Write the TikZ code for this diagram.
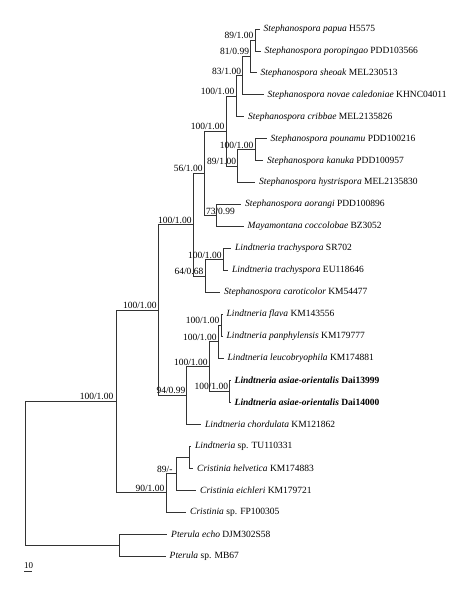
\documentclass[tikz,border=0pt]{standalone}
\usepackage{fontspec}
\setmainfont{Liberation Serif}
\begin{document}
\begin{tikzpicture}[x=1pt,y=-1pt,
  br/.style={draw=black!80, line width=0.9pt},
  taxon/.style={anchor=west, inner sep=0pt, xshift=4pt, font=\fontsize{9.5}{11}\selectfont},
  bs/.style={anchor=base east, inner sep=0pt, xshift=-1.5pt, yshift=1.6pt, font=\fontsize{9.5}{11}\selectfont},
  bsl/.style={anchor=base west, inner sep=0pt, xshift=1.5pt, yshift=1.6pt, font=\fontsize{9.5}{11}\selectfont},
]
\useasboundingbox[fill=white] (0,0) rectangle (474,592);

% leaf tips
\coordinate (t0) at (259.5,29.0);
\coordinate (t1) at (260.5,51.0);
\coordinate (t2) at (256.5,72.9);
\coordinate (t3) at (263.5,94.9);
\coordinate (t4) at (244.0,116.8);
\coordinate (t5) at (266.5,138.8);
\coordinate (t6) at (263.0,160.8);
\coordinate (t7) at (255.0,182.7);
\coordinate (t8) at (241.0,204.7);
\coordinate (t9) at (243.5,226.6);
\coordinate (t10) at (231.0,248.6);
\coordinate (t11) at (228.0,270.6);
\coordinate (t12) at (220.0,292.5);
\coordinate (t13) at (222.5,314.5);
\coordinate (t14) at (222.5,336.4);
\coordinate (t15) at (223.5,358.4);
\coordinate (t16) at (230.5,380.4);
\coordinate (t17) at (230.5,402.3);
\coordinate (t18) at (201.0,424.3);
\coordinate (t19) at (191.0,446.2);
\coordinate (t20) at (193.0,468.2);
\coordinate (t21) at (196.0,490.2);
\coordinate (t22) at (186.0,512.1);
\coordinate (t23) at (167.0,534.1);
\coordinate (t24) at (165.5,556.0);

% internal nodes
\coordinate (Q) at (255.0,40.0);
\coordinate (P) at (250.7,56.5);
\coordinate (O) at (242.7,75.7);
\coordinate (N) at (236.0,96.2);
\coordinate (L) at (255.0,149.8);
\coordinate (K) at (237.7,166.2);
\coordinate (J) at (226.0,131.2);
\coordinate (M) at (216.0,215.7);
\coordinate (E) at (204.3,173.4);
\coordinate (T) at (223.3,259.6);
\coordinate (F) at (205.0,276.0);
\coordinate (D) at (193.3,224.7);
\coordinate (R) at (221.0,325.5);
\coordinate (I) at (218.3,341.9);
\coordinate (S) at (229.3,391.3);
\coordinate (H) at (209.3,366.6);
\coordinate (G) at (186.5,395.4);
\coordinate (C) at (158.3,310.1);
\coordinate (U) at (189.7,457.2);
\coordinate (V) at (176.7,473.7);
\coordinate (W) at (166.0,492.9);
\coordinate (A) at (116.0,401.5);
\coordinate (X) at (119.0,545.0);
\coordinate (root) at (25.0,473.3);

% branches
\draw[br] (Q) |- (t0);  \draw[br] (Q) |- (t1);
\draw[br] (P) |- (Q);   \draw[br] (P) |- (t2);
\draw[br] (O) |- (P);   \draw[br] (O) |- (t3);
\draw[br] (N) |- (O);   \draw[br] (N) |- (t4);
\draw[br] (L) |- (t5);  \draw[br] (L) |- (t6);
\draw[br] (K) |- (L);   \draw[br] (K) |- (t7);
\draw[br] (J) |- (N);   \draw[br] (J) |- (K);
\draw[br] (M) |- (t8);  \draw[br] (M) |- (t9);
\draw[br] (E) |- (J);   \draw[br] (E) |- (M);
\draw[br] (T) |- (t10); \draw[br] (T) |- (t11);
\draw[br] (F) |- (T);   \draw[br] (F) |- (t12);
\draw[br] (D) |- (E);   \draw[br] (D) |- (F);
\draw[br] (R) |- (t13); \draw[br] (R) |- (t14);
\draw[br] (I) |- (R);   \draw[br] (I) |- (t15);
\draw[br] (S) |- (t16); \draw[br] (S) |- (t17);
\draw[br] (H) |- (I);   \draw[br] (H) |- (S);
\draw[br] (G) |- (H);   \draw[br] (G) |- (t18);
\draw[br] (C) |- (D);   \draw[br] (C) |- (G);
\draw[br] (U) |- (t19); \draw[br] (U) |- (t20);
\draw[br] (V) |- (U);   \draw[br] (V) |- (t21);
\draw[br] (W) |- (V);   \draw[br] (W) |- (t22);
\draw[br] (A) |- (C);   \draw[br] (A) |- (W);
\draw[br] (X) |- (t23); \draw[br] (X) |- (t24);
\draw[br] (root) |- (A); \draw[br] (root) |- (X);

% support values
\node[bs] (sQ) at (Q) {89/1.00};
\node[bs] (sP) at (P) {81/0.99};
\node[bs] (sO) at (O) {83/1.00};
\node[bs] (sN) at (N) {100/1.00};
\node[bs] (sJ) at (J) {100/1.00};
\node[bs] (sL) at (L) {100/1.00};
\node[bs] (sK) at (K) {89/1.00};
\node[bs] (sE) at (E) {56/1.00};
\node[bsl] (sM) at (E |- M) {73/0.99};
\node[bs] (sD) at (D) {100/1.00};
\node[bs] (sT) at (T) {100/1.00};
\node[bs] (sF) at (F) {64/0.68};
\node[bs] (sC) at (C) {100/1.00};
\node[bs] (sR) at (R) {100/1.00};
\node[bs] (sI) at (I) {100/1.00};
\node[bs] (sH) at (H) {100/1.00};
\node[bs,xshift=0.5pt] (sS) at (S) {100/1.00};
\node[bs,xshift=0.5pt] (sG) at (G) {94/0.99};
\node[bs,xshift=-1pt] (sA) at (A) {100/1.00};
\node[bs,xshift=-2.5pt] (sV) at (V) {89/-};
\node[bs] (sW) at (W) {90/1.00};

% taxa
\node[taxon] (l0) at (t0) {\textit{Stephanospora papua} H5575};
\node[taxon] (l1) at (t1) {\textit{Stephanospora poropingao} PDD103566};
\node[taxon] (l2) at (t2) {\textit{Stephanospora sheoak} MEL230513};
\node[taxon] (l3) at (t3) {\textit{Stephanospora novae caledoniae} KHNC04011};
\node[taxon] (l4) at (t4) {\textit{Stephanospora cribbae} MEL2135826};
\node[taxon] (l5) at (t5) {\textit{Stephanospora pounamu} PDD100216};
\node[taxon] (l6) at (t6) {\textit{Stephanospora kanuka} PDD100957};
\node[taxon] (l7) at (t7) {\textit{Stephanospora hystrispora} MEL2135830};
\node[taxon] (l8) at (t8) {\textit{Stephanospora aorangi} PDD100896};
\node[taxon] (l9) at (t9) {\textit{Mayamontana coccolobae} BZ3052};
\node[taxon] (l10) at (t10) {\textit{Lindtneria trachyspora} SR702};
\node[taxon] (l11) at (t11) {\textit{Lindtneria trachyspora} EU118646};
\node[taxon] (l12) at (t12) {\textit{Stephanospora caroticolor} KM54477};
\node[taxon] (l13) at (t13) {\textit{Lindtneria flava} KM143556};
\node[taxon] (l14) at (t14) {\textit{Lindtneria panphylensis} KM179777};
\node[taxon] (l15) at (t15) {\textit{Lindtneria leucobryophila} KM174881};
\node[taxon] (l16) at (t16) {\textbf{\textit{Lindtneria asiae-orientalis} Dai13999}};
\node[taxon] (l17) at (t17) {\textbf{\textit{Lindtneria asiae-orientalis} Dai14000}};
\node[taxon] (l18) at (t18) {\textit{Lindtneria chordulata} KM121862};
\node[taxon] (l19) at (t19) {\textit{Lindtneria} sp. TU110331};
\node[taxon] (l20) at (t20) {\textit{Cristinia helvetica} KM174883};
\node[taxon] (l21) at (t21) {\textit{Cristinia eichleri} KM179721};
\node[taxon] (l22) at (t22) {\textit{Cristinia} sp. FP100305};
\node[taxon] (l23) at (t23) {\textit{Pterula echo} DJM302S58};
\node[taxon] (l24) at (t24) {\textit{Pterula} sp. MB67};

% scale
\node[inner sep=0pt, anchor=base west, font=\fontsize{9}{10}\selectfont] (scale) at (24,568) {10};
\coordinate (sb1) at (24,571.5);
\coordinate (sb2) at (32,571.5);
\draw[br, line width=0.7pt] (sb1) -- (sb2);
\end{tikzpicture}
\end{document}
